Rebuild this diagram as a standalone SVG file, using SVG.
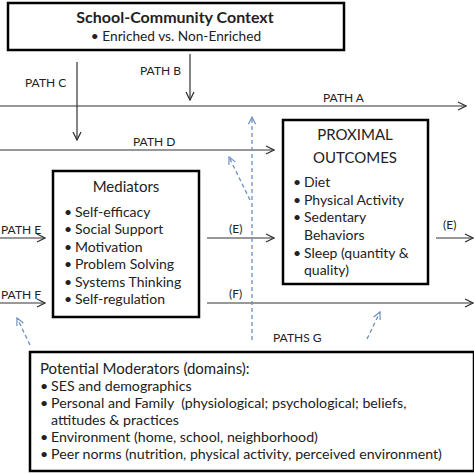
<svg xmlns="http://www.w3.org/2000/svg" width="474" height="474" viewBox="0 0 474 474">
<style>
text{font-family:Lato,"Open Sans","Liberation Sans",sans-serif;fill:#222}
.box{fill:#fff;stroke:#000;stroke-width:2.5}
.ln{stroke:#333;stroke-width:1.2;fill:none}
.dash{stroke:#6b8fc2;stroke-width:1.3;fill:none;stroke-dasharray:4 3}
.lbl{font-size:12px}
.b{font-size:14px}
</style>
<defs>
<marker id="ah" viewBox="0 0 10 10" refX="9" refY="5" markerWidth="10" markerHeight="10" markerUnits="userSpaceOnUse" orient="auto"><path d="M1,1 L9,5 L1,9" fill="none" stroke="#333" stroke-width="1.3"/></marker>
<marker id="ahd" viewBox="0 0 10 10" refX="9" refY="5" markerWidth="9" markerHeight="9" markerUnits="userSpaceOnUse" orient="auto"><path d="M1,1 L9,5 L1,9" fill="none" stroke="#6b8fc2" stroke-width="1.3"/></marker>
</defs>
<g id="connectors">
<line class="ln" x1="77" y1="62" x2="77" y2="140" marker-end="url(#ah)"/>
<line class="ln" x1="190" y1="54" x2="190" y2="100" marker-end="url(#ah)"/>
<line class="ln" x1="0" y1="106" x2="466" y2="106" marker-end="url(#ah)"/>
<line class="ln" x1="0" y1="150" x2="274" y2="150" marker-end="url(#ah)"/>
<line class="ln" x1="0" y1="238" x2="45" y2="238" marker-end="url(#ah)"/>
<line class="ln" x1="207" y1="238" x2="274" y2="238" marker-end="url(#ah)"/>
<line class="ln" x1="436" y1="238" x2="473" y2="238" marker-end="url(#ah)"/>
<line class="ln" x1="0" y1="303" x2="45" y2="303" marker-end="url(#ah)"/>
<line class="ln" x1="207" y1="303" x2="473" y2="303" marker-end="url(#ah)"/>
<line class="dash" x1="252" y1="340" x2="252" y2="117" marker-end="url(#ahd)"/>
<line class="dash" x1="250" y1="200" x2="229" y2="157" marker-end="url(#ahd)"/>
<line class="dash" x1="30" y1="345" x2="17" y2="318" marker-end="url(#ahd)"/>
<line class="dash" x1="367" y1="339" x2="380" y2="312" marker-end="url(#ahd)"/>
<text class="lbl" x="25" y="87">PATH C</text>
<text class="lbl" x="140" y="75">PATH B</text>
<text class="lbl" x="323" y="102">PATH A</text>
<text class="lbl" x="133" y="146">PATH D</text>
<text class="lbl" x="1" y="234">PATH E</text>
<text class="lbl" x="1" y="299">PATH F</text>
<text class="lbl" x="229" y="233">(E)</text>
<text class="lbl" x="443" y="229">(E)</text>
<text class="lbl" x="229" y="298">(F)</text>
<text class="lbl" x="273" y="342">PATHS G</text>
</g>
<g id="context">
<rect class="box" x="8" y="3" width="336" height="47"/>
<text x="175" y="23" text-anchor="middle" font-size="16" font-weight="bold">School-Community Context</text>
<text x="176" y="41" text-anchor="middle" font-size="13.7">• Enriched vs. Non-Enriched</text>
</g>
<g id="proximal">
<rect class="box" x="283" y="120" width="145" height="164"/>
<text x="355" y="140" text-anchor="middle" font-size="15">PROXIMAL</text>
<text x="355" y="163" text-anchor="middle" font-size="15">OUTCOMES</text>
<g class="b">
<text x="293" y="187">•</text><text x="304" y="187">Diet</text>
<text x="293" y="205">•</text><text x="304" y="205">Physical Activity</text>
<text x="293" y="222">•</text><text x="304" y="222">Sedentary</text>
<text x="304" y="240">Behaviors</text>
<text x="293" y="258">•</text><text x="304" y="258">Sleep (quantity &amp;</text>
<text x="304" y="275">quality)</text>
</g>
</g>
<g id="mediators">
<rect class="box" x="53" y="171" width="146" height="146"/>
<text x="126" y="192" text-anchor="middle" font-size="15">Mediators</text>
<g class="b">
<text x="64" y="217">•</text><text x="75" y="217">Self-efficacy</text>
<text x="64" y="234">•</text><text x="75" y="234">Social Support</text>
<text x="64" y="252">•</text><text x="75" y="252">Motivation</text>
<text x="64" y="269">•</text><text x="75" y="269">Problem Solving</text>
<text x="64" y="287">•</text><text x="75" y="287">Systems Thinking</text>
<text x="64" y="304">•</text><text x="75" y="304">Self-regulation</text>
</g>
</g>
<g id="moderators">
<rect class="box" x="30" y="352" width="444" height="119"/>
<text x="40" y="374" font-size="15">Potential Moderators (domains):</text>
<g font-size="14.2">
<text x="40" y="391">•</text><text x="51" y="391">SES and demographics</text>
<text x="40" y="408">•</text><text x="51" y="408" xml:space="preserve">Personal and Family  (physiological; psychological; beliefs,</text>
<text x="51" y="425">attitudes &amp; practices</text>
<text x="40" y="442">•</text><text x="51" y="442">Environment (home, school, neighborhood)</text>
<text x="40" y="459">•</text><text x="51" y="459">Peer norms (nutrition, physical activity, perceived environment)</text>
</g>
</g>
</svg>
